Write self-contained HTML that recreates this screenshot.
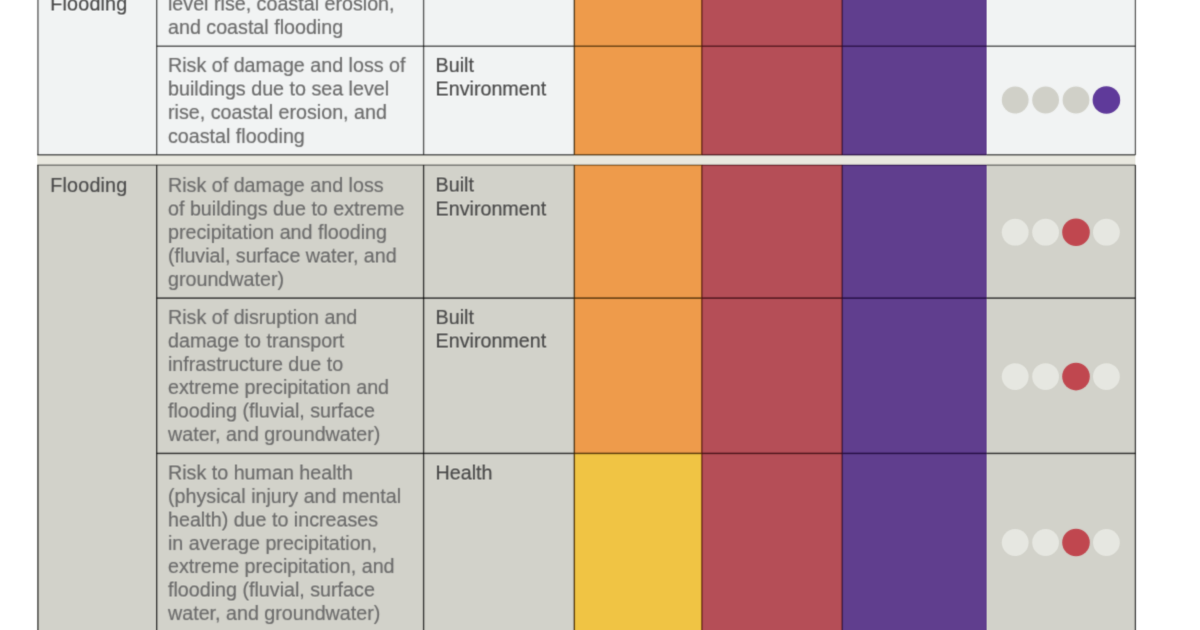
<!DOCTYPE html>
<html lang="en"><head><meta charset="utf-8"><title>Flooding risk table</title>
<style>
*{margin:0;padding:0;box-sizing:border-box}
html,body{width:1200px;height:630px;overflow:hidden;background:#fff}
body{position:relative;font-family:"Liberation Sans",Arial,Helvetica,sans-serif;font-size:19.7px;line-height:24px;color:#484848}
svg{position:absolute;left:0;top:0;display:block}
p{position:absolute;white-space:nowrap;transform:scaleX(1);transform-origin:0 0;-webkit-text-stroke:.18px currentColor;filter:url(#f0)}
p.h{filter:url(#f2)}
.g{color:#6a6a6a}
.k{letter-spacing:.2px}
</style></head>
<body>
<svg width="1200" height="630" viewBox="0 0 1200 630" aria-hidden="true">
<defs><filter id="f0" x="-2%" y="-25%" width="104%" height="150%" color-interpolation-filters="sRGB"><feConvolveMatrix order="3 3" kernelMatrix="1 4 1 4 16 4 1 4 1" divisor="36" edgeMode="none" preserveAlpha="false"/></filter><filter id="f2" x="-2%" y="-25%" width="104%" height="150%" color-interpolation-filters="sRGB"><feConvolveMatrix order="3 2" kernelMatrix="1 4 1 1 4 1" divisor="12" targetX="1" targetY="1" edgeMode="none" preserveAlpha="false"/></filter><filter id="fl" filterUnits="userSpaceOnUse" x="-10" y="-10" width="1220" height="650" color-interpolation-filters="sRGB"><feConvolveMatrix order="3 3" kernelMatrix="1 6 1 6 36 6 1 6 1" divisor="64" edgeMode="none" preserveAlpha="false"/></filter></defs>
<g>
<rect x="37.30" y="150.00" width="1098.10" height="20.00" fill="#e9e8df"/>
<rect x="37.30" y="-2.00" width="1098.10" height="156.80" fill="#f1f3f3"/>
<rect x="37.30" y="165.10" width="1098.10" height="466.90" fill="#d2d2ca"/>
<rect x="574.30" y="-2.00" width="128.00" height="156.80" fill="#ee9b4b"/>
<rect x="701.80" y="-2.00" width="140.90" height="156.80" fill="#b54e57"/>
<rect x="842.20" y="-2.00" width="144.40" height="156.80" fill="#603e8e"/>
<rect x="574.30" y="165.10" width="128.00" height="466.90" fill="#ee9b4b"/>
<rect x="701.80" y="165.10" width="140.90" height="466.90" fill="#b54e57"/>
<rect x="842.20" y="165.10" width="144.40" height="466.90" fill="#603e8e"/>
<rect x="574.30" y="453.40" width="127.50" height="178.60" fill="#f0c444"/>
</g>
<g filter="url(#fl)">
<rect x="156.70" y="45.45" width="417.60" height="1.5" fill="#000" fill-opacity="0.62"/>
<rect x="574.30" y="45.45" width="127.50" height="1.5" fill="#3d2400" fill-opacity="0.7"/>
<rect x="701.80" y="45.45" width="140.40" height="1.5" fill="#3a0a10" fill-opacity="0.7"/>
<rect x="842.20" y="45.45" width="144.40" height="1.5" fill="#1c0638" fill-opacity="0.7"/>
<rect x="986.60" y="45.45" width="148.80" height="1.5" fill="#000" fill-opacity="0.62"/>
<rect x="37.30" y="154.05" width="537.00" height="1.5" fill="#000" fill-opacity="0.62"/>
<rect x="574.30" y="154.05" width="127.50" height="1.5" fill="#3d2400" fill-opacity="0.7"/>
<rect x="701.80" y="154.05" width="140.40" height="1.5" fill="#3a0a10" fill-opacity="0.7"/>
<rect x="842.20" y="154.05" width="144.40" height="1.5" fill="#1c0638" fill-opacity="0.7"/>
<rect x="986.60" y="154.05" width="148.80" height="1.5" fill="#000" fill-opacity="0.62"/>
<rect x="37.30" y="164.45" width="537.00" height="1.3" fill="#000" fill-opacity="0.5"/>
<rect x="574.30" y="164.45" width="127.50" height="1.3" fill="#3d2400" fill-opacity="0.58"/>
<rect x="701.80" y="164.45" width="140.40" height="1.3" fill="#3a0a10" fill-opacity="0.58"/>
<rect x="842.20" y="164.45" width="144.40" height="1.3" fill="#1c0638" fill-opacity="0.58"/>
<rect x="986.60" y="164.45" width="148.80" height="1.3" fill="#000" fill-opacity="0.5"/>
<rect x="156.70" y="297.35" width="417.60" height="1.5" fill="#000" fill-opacity="0.72"/>
<rect x="574.30" y="297.35" width="127.50" height="1.5" fill="#3d2400" fill-opacity="0.7999999999999999"/>
<rect x="701.80" y="297.35" width="140.40" height="1.5" fill="#3a0a10" fill-opacity="0.7999999999999999"/>
<rect x="842.20" y="297.35" width="144.40" height="1.5" fill="#1c0638" fill-opacity="0.7999999999999999"/>
<rect x="986.60" y="297.35" width="148.80" height="1.5" fill="#000" fill-opacity="0.72"/>
<rect x="156.70" y="452.65" width="417.60" height="1.5" fill="#000" fill-opacity="0.72"/>
<rect x="574.30" y="452.65" width="127.50" height="1.5" fill="#3d2400" fill-opacity="0.7999999999999999"/>
<rect x="701.80" y="452.65" width="140.40" height="1.5" fill="#3a0a10" fill-opacity="0.7999999999999999"/>
<rect x="842.20" y="452.65" width="144.40" height="1.5" fill="#1c0638" fill-opacity="0.7999999999999999"/>
<rect x="986.60" y="452.65" width="148.80" height="1.5" fill="#000" fill-opacity="0.72"/>
<rect x="37.25" y="-2.00" width="1.4" height="156.80" fill="#000" fill-opacity="0.589"/>
<rect x="156.00" y="-2.00" width="1.4" height="156.80" fill="#000" fill-opacity="0.62"/>
<rect x="422.90" y="-2.00" width="1.4" height="156.80" fill="#000" fill-opacity="0.62"/>
<rect x="573.55" y="-2.00" width="1.5" height="156.80" fill="#2e1c00" fill-opacity="0.72"/>
<rect x="701.05" y="-2.00" width="1.5" height="156.80" fill="#4a1408" fill-opacity="0.68"/>
<rect x="841.45" y="-2.00" width="1.5" height="156.80" fill="#2a0828" fill-opacity="0.68"/>
<rect x="1134.75" y="-2.00" width="1.3" height="156.80" fill="#000" fill-opacity="0.62"/>
<rect x="37.25" y="165.10" width="1.4" height="466.90" fill="#000" fill-opacity="0.6839999999999999"/>
<rect x="156.00" y="165.10" width="1.4" height="466.90" fill="#000" fill-opacity="0.72"/>
<rect x="422.90" y="165.10" width="1.4" height="466.90" fill="#000" fill-opacity="0.72"/>
<rect x="573.55" y="165.10" width="1.5" height="466.90" fill="#2e1c00" fill-opacity="0.72"/>
<rect x="701.05" y="165.10" width="1.5" height="466.90" fill="#4a1408" fill-opacity="0.68"/>
<rect x="841.45" y="165.10" width="1.5" height="466.90" fill="#2a0828" fill-opacity="0.68"/>
<rect x="1134.75" y="165.10" width="1.3" height="466.90" fill="#000" fill-opacity="0.72"/>
</g>
<g filter="url(#fl)">
<circle cx="1015.20" cy="100.00" r="13.4" fill="#d0d0c8"/>
<circle cx="1045.60" cy="100.00" r="13.4" fill="#d0d0c8"/>
<circle cx="1076.00" cy="100.00" r="13.4" fill="#d0d0c8"/>
<circle cx="1106.40" cy="100.00" r="13.8" fill="#5f3a9a"/>
<circle cx="1015.20" cy="232.20" r="13.4" fill="#e6e7e1"/>
<circle cx="1045.60" cy="232.20" r="13.4" fill="#e6e7e1"/>
<circle cx="1076.00" cy="232.20" r="13.8" fill="#c0474f"/>
<circle cx="1106.40" cy="232.20" r="13.4" fill="#e6e7e1"/>
<circle cx="1015.20" cy="376.60" r="13.4" fill="#e6e7e1"/>
<circle cx="1045.60" cy="376.60" r="13.4" fill="#e6e7e1"/>
<circle cx="1076.00" cy="376.60" r="13.8" fill="#c0474f"/>
<circle cx="1106.40" cy="376.60" r="13.4" fill="#e6e7e1"/>
<circle cx="1015.20" cy="542.50" r="13.4" fill="#e6e7e1"/>
<circle cx="1045.60" cy="542.50" r="13.4" fill="#e6e7e1"/>
<circle cx="1076.00" cy="542.50" r="13.8" fill="#c0474f"/>
<circle cx="1106.40" cy="542.50" r="13.4" fill="#e6e7e1"/>
</g>
</svg>
<p class="k h" style="left:50.3px;top:-9px">Flooding</p>
<p class="g h" style="left:168.0px;top:-9px">level rise, coastal erosion,</p>
<p class="g" style="left:168.0px;top:15px">and coastal flooding</p>
<p class="g" style="left:168.0px;top:53px">Risk of damage and loss of</p>
<p class="g h" style="left:168.0px;top:76px">buildings due to sea level</p>
<p class="g" style="left:168.0px;top:100px">rise, coastal erosion, and</p>
<p class="g" style="left:168.0px;top:124px">coastal flooding</p>
<p style="left:435.6px;top:53px">Built</p>
<p class="h" style="left:435.6px;top:76px">Environment</p>
<p class="k" style="left:50.3px;top:173px">Flooding</p>
<p class="g" style="left:168.0px;top:173px">Risk of damage and loss</p>
<p class="g h" style="left:168.0px;top:196px">of buildings due to extreme</p>
<p class="g" style="left:168.0px;top:220px">precipitation and flooding</p>
<p class="g h" style="left:168.0px;top:243px">(fluvial, surface water, and</p>
<p class="g" style="left:168.0px;top:267px">groundwater)</p>
<p class="h" style="left:435.6px;top:172px">Built</p>
<p class="h" style="left:435.6px;top:196px">Environment</p>
<p class="g" style="left:168.0px;top:305px">Risk of disruption and</p>
<p class="g h" style="left:168.0px;top:328px">damage to transport</p>
<p class="g" style="left:168.0px;top:352px">infrastructure due to</p>
<p class="g" style="left:168.0px;top:375px">extreme precipitation and</p>
<p class="g h" style="left:168.0px;top:398px">flooding (fluvial, surface</p>
<p class="g" style="left:168.0px;top:422px">water, and groundwater)</p>
<p style="left:435.6px;top:305px">Built</p>
<p class="h" style="left:435.6px;top:328px">Environment</p>
<p class="g h" style="left:168.0px;top:460px">Risk to human health</p>
<p class="g" style="left:168.0px;top:484px">(physical injury and mental</p>
<p class="g h" style="left:168.0px;top:507px">health) due to increases</p>
<p class="g" style="left:168.0px;top:531px">in average precipitation,</p>
<p class="g" style="left:168.0px;top:554px">extreme precipitation, and</p>
<p class="g h" style="left:168.0px;top:577px">flooding (fluvial, surface</p>
<p class="g" style="left:168.0px;top:601px">water, and groundwater)</p>
<p class="h" style="left:435.6px;top:460px">Health</p>
</body></html>
